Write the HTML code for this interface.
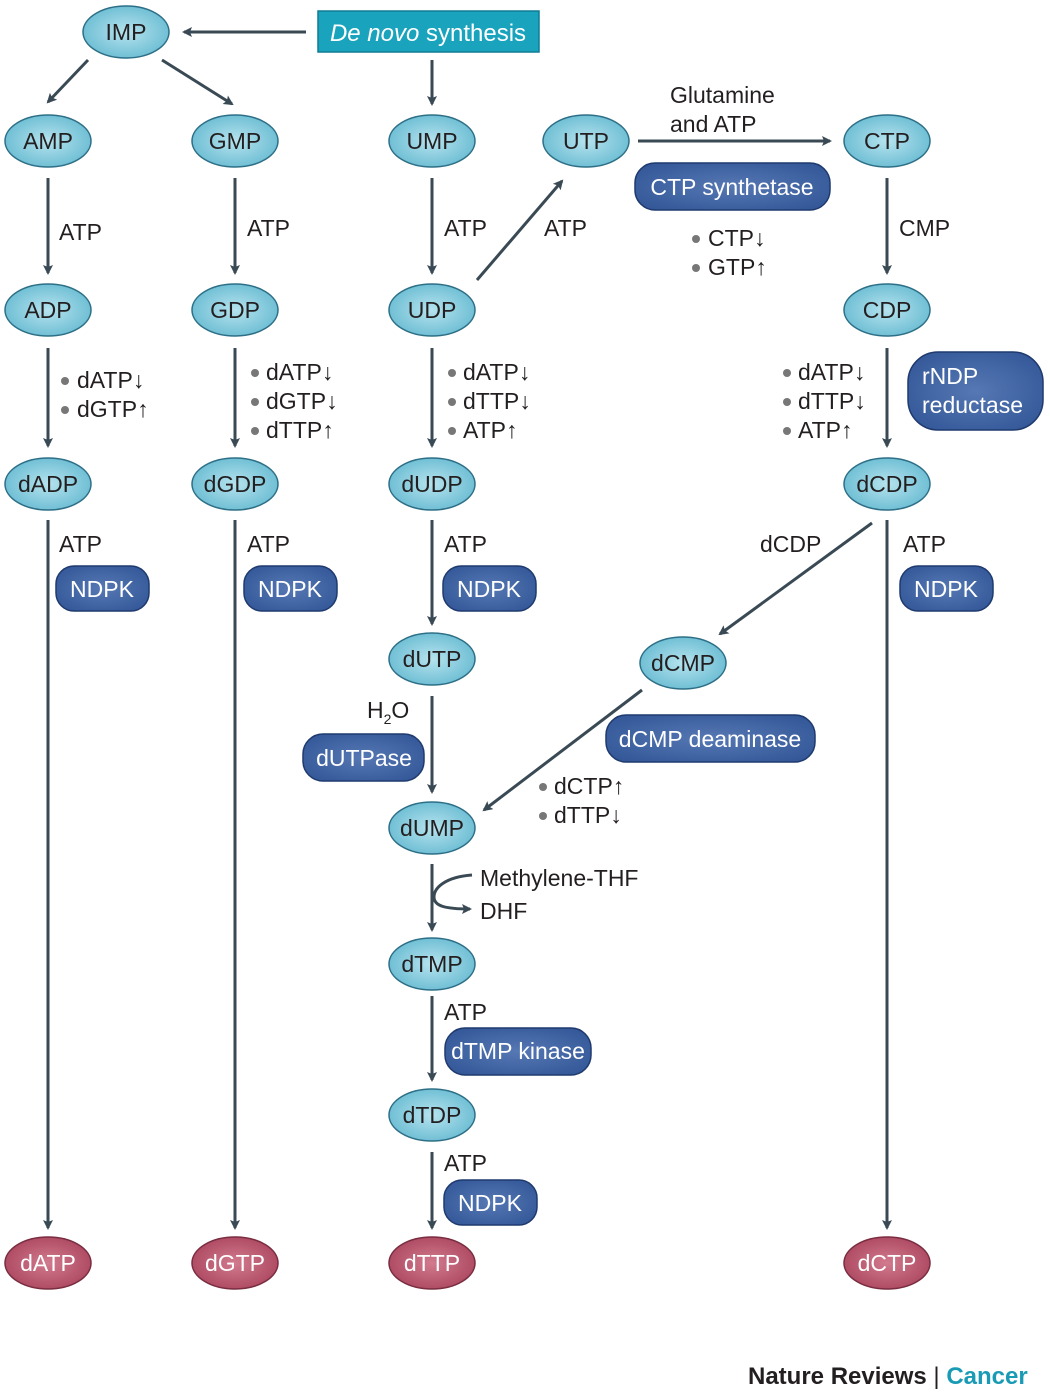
<!DOCTYPE html>
<html><head><meta charset="utf-8">
<style>
html,body{margin:0;padding:0;background:#fff;}
svg{display:block;}
text{font-family:"Liberation Sans",sans-serif;fill:#231f20;}
</style></head><body>
<svg width="1050" height="1396" viewBox="0 0 1050 1396" xmlns="http://www.w3.org/2000/svg">
<defs>
<radialGradient id="bl" cx="50%" cy="50%" r="60%">
<stop offset="0" stop-color="#b5e3ee"/><stop offset="1" stop-color="#63b8d0"/></radialGradient>
<radialGradient id="rd" cx="50%" cy="50%" r="60%">
<stop offset="0" stop-color="#d27a8e"/><stop offset="1" stop-color="#a8435c"/></radialGradient>
<radialGradient id="en" cx="50%" cy="50%" r="70%">
<stop offset="0" stop-color="#5678b4"/><stop offset="1" stop-color="#2f5394"/></radialGradient>
<marker id="ah" markerWidth="10" markerHeight="10" refX="8" refY="5" orient="auto" markerUnits="userSpaceOnUse">
<path d="M0,0 L10,5 L0,10 L2,5 Z" fill="#3a4a55"/></marker>
</defs>
<g stroke="#3a4a55" stroke-width="3" fill="none" marker-end="url(#ah)">
<line x1="306" y1="32" x2="184" y2="32"/>
<line x1="88" y1="60" x2="48" y2="102"/>
<line x1="162" y1="60" x2="232" y2="104"/>
<line x1="432" y1="60" x2="432" y2="104"/>
<line x1="638" y1="141" x2="830" y2="141"/>
<line x1="48" y1="178" x2="48" y2="273"/>
<line x1="235" y1="178" x2="235" y2="273"/>
<line x1="432" y1="178" x2="432" y2="273"/>
<line x1="477" y1="280" x2="562" y2="181"/>
<line x1="887" y1="178" x2="887" y2="273"/>
<line x1="48" y1="348" x2="48" y2="446"/>
<line x1="235" y1="348" x2="235" y2="446"/>
<line x1="432" y1="348" x2="432" y2="446"/>
<line x1="887" y1="348" x2="887" y2="446"/>
<line x1="48" y1="520" x2="48" y2="1228"/>
<line x1="235" y1="520" x2="235" y2="1228"/>
<line x1="432" y1="520" x2="432" y2="624"/>
<line x1="887" y1="520" x2="887" y2="1228"/>
<line x1="872" y1="523" x2="720" y2="634"/>
<line x1="432" y1="696" x2="432" y2="792"/>
<line x1="642" y1="690" x2="484" y2="810"/>
<line x1="432" y1="864" x2="432" y2="930"/>
<line x1="432" y1="996" x2="432" y2="1080"/>
<line x1="432" y1="1152" x2="432" y2="1228"/>
<path d="M472,875 C445,877 434,888 434,897 C434,906 445,909 470,909"/>
</g>
<!-- teal box -->
<rect x="318" y="11" width="221" height="41" fill="#1aa3bd" stroke="#0e7d93" stroke-width="1.5"/>
<text x="428" y="41" font-size="24" text-anchor="middle" style="fill:#fff"><tspan font-style="italic">De novo</tspan> synthesis</text>
<!-- blue nodes -->
<g stroke="#2d6f86" stroke-width="1.5" fill="url(#bl)">
<ellipse cx="126" cy="32" rx="43" ry="26"/>
<ellipse cx="48" cy="141" rx="43" ry="26"/>
<ellipse cx="235" cy="141" rx="43" ry="26"/>
<ellipse cx="432" cy="141" rx="43" ry="26"/>
<ellipse cx="586" cy="141" rx="43" ry="26"/>
<ellipse cx="887" cy="141" rx="43" ry="26"/>
<ellipse cx="48" cy="310" rx="43" ry="26"/>
<ellipse cx="235" cy="310" rx="43" ry="26"/>
<ellipse cx="432" cy="310" rx="43" ry="26"/>
<ellipse cx="887" cy="310" rx="43" ry="26"/>
<ellipse cx="48" cy="484" rx="43" ry="26"/>
<ellipse cx="235" cy="484" rx="43" ry="26"/>
<ellipse cx="432" cy="484" rx="43" ry="26"/>
<ellipse cx="887" cy="484" rx="43" ry="26"/>
<ellipse cx="432" cy="659" rx="43" ry="26"/>
<ellipse cx="683" cy="663" rx="43" ry="26"/>
<ellipse cx="432" cy="828" rx="43" ry="26"/>
<ellipse cx="432" cy="964" rx="43" ry="26"/>
<ellipse cx="432" cy="1115" rx="43" ry="26"/>
</g>
<g stroke="#7a2c40" stroke-width="1.5" fill="url(#rd)">
<ellipse cx="48" cy="1263" rx="43" ry="26"/>
<ellipse cx="235" cy="1263" rx="43" ry="26"/>
<ellipse cx="432" cy="1263" rx="43" ry="26"/>
<ellipse cx="887" cy="1263" rx="43" ry="26"/>
</g>
<g font-size="23" text-anchor="middle">
<text x="126" y="40">IMP</text>
<text x="48" y="149">AMP</text><text x="235" y="149">GMP</text><text x="432" y="149">UMP</text>
<text x="586" y="149">UTP</text><text x="887" y="149">CTP</text>
<text x="48" y="318">ADP</text><text x="235" y="318">GDP</text><text x="432" y="318">UDP</text><text x="887" y="318">CDP</text>
<text x="48" y="492">dADP</text><text x="235" y="492">dGDP</text><text x="432" y="492">dUDP</text><text x="887" y="492">dCDP</text>
<text x="432" y="667">dUTP</text><text x="683" y="671">dCMP</text>
<text x="432" y="836">dUMP</text><text x="432" y="972">dTMP</text><text x="432" y="1123">dTDP</text>
</g>
<g font-size="23" text-anchor="middle" style="fill:#fff">
<text x="48" y="1271" style="fill:#fff">dATP</text><text x="235" y="1271" style="fill:#fff">dGTP</text>
<text x="432" y="1271" style="fill:#fff">dTTP</text><text x="887" y="1271" style="fill:#fff">dCTP</text>
</g>
<!-- enzyme boxes -->
<g fill="url(#en)" stroke="#1f3a6e" stroke-width="1.5">
<rect x="635" y="163" width="195" height="47" rx="20"/>
<rect x="908" y="352" width="135" height="78" rx="30"/>
<rect x="56" y="566" width="93" height="45" rx="18"/>
<rect x="244" y="566" width="93" height="45" rx="18"/>
<rect x="443" y="566" width="93" height="45" rx="18"/>
<rect x="900" y="566" width="93" height="45" rx="18"/>
<rect x="606" y="715" width="209" height="47" rx="20"/>
<rect x="303" y="734" width="121" height="47" rx="20"/>
<rect x="445" y="1028" width="146" height="47" rx="20"/>
<rect x="444" y="1180" width="93" height="45" rx="18"/>
</g>
<g font-size="23" style="fill:#fff">
<text x="732" y="195" text-anchor="middle" style="fill:#fff">CTP synthetase</text>
<text x="922" y="384" style="fill:#fff">rNDP</text>
<text x="922" y="413" style="fill:#fff">reductase</text>
<text x="102" y="597" text-anchor="middle" style="fill:#fff">NDPK</text>
<text x="290" y="597" text-anchor="middle" style="fill:#fff">NDPK</text>
<text x="489" y="597" text-anchor="middle" style="fill:#fff">NDPK</text>
<text x="946" y="597" text-anchor="middle" style="fill:#fff">NDPK</text>
<text x="710" y="747" text-anchor="middle" style="fill:#fff">dCMP deaminase</text>
<text x="364" y="766" text-anchor="middle" style="fill:#fff">dUTPase</text>
<text x="518" y="1059" text-anchor="middle" style="fill:#fff">dTMP kinase</text>
<text x="490" y="1211" text-anchor="middle" style="fill:#fff">NDPK</text>
</g>
<!-- labels -->
<g font-size="23">
<text x="670" y="103">Glutamine</text>
<text x="670" y="132">and ATP</text>
<text x="59" y="240">ATP</text><text x="247" y="236">ATP</text><text x="444" y="236">ATP</text>
<text x="544" y="236">ATP</text><text x="899" y="236">CMP</text>
<text x="59" y="552">ATP</text><text x="247" y="552">ATP</text><text x="444" y="552">ATP</text>
<text x="760" y="552">dCDP</text><text x="903" y="552">ATP</text>
<text x="367" y="718">H<tspan font-size="14" dy="6">2</tspan><tspan dy="-6">O</tspan></text>
<text x="480" y="886">Methylene-THF</text>
<text x="480" y="919">DHF</text>
<text x="444" y="1020">ATP</text><text x="444" y="1171">ATP</text>
<text x="708" y="246">CTP↓</text><text x="708" y="275">GTP↑</text>
<text x="77" y="388">dATP↓</text><text x="77" y="417">dGTP↑</text>
<text x="266" y="380">dATP↓</text><text x="266" y="409">dGTP↓</text><text x="266" y="438">dTTP↑</text>
<text x="463" y="380">dATP↓</text><text x="463" y="409">dTTP↓</text><text x="463" y="438">ATP↑</text>
<text x="798" y="380">dATP↓</text><text x="798" y="409">dTTP↓</text><text x="798" y="438">ATP↑</text>
<text x="554" y="794">dCTP↑</text><text x="554" y="823">dTTP↓</text>
</g>
<g fill="#777">
<circle cx="696" cy="239" r="4"/><circle cx="696" cy="268" r="4"/>
<circle cx="65" cy="381" r="4"/><circle cx="65" cy="410" r="4"/>
<circle cx="255" cy="373" r="4"/><circle cx="255" cy="402" r="4"/><circle cx="255" cy="431" r="4"/>
<circle cx="452" cy="373" r="4"/><circle cx="452" cy="402" r="4"/><circle cx="452" cy="431" r="4"/>
<circle cx="787" cy="373" r="4"/><circle cx="787" cy="402" r="4"/><circle cx="787" cy="431" r="4"/>
<circle cx="543" cy="787" r="4"/><circle cx="543" cy="816" r="4"/>
</g>
<text x="748" y="1384" font-size="24" font-weight="bold">Nature Reviews <tspan font-weight="normal">|</tspan> <tspan style="fill:#1a9bb5">Cancer</tspan></text>
</svg>
</body></html>
